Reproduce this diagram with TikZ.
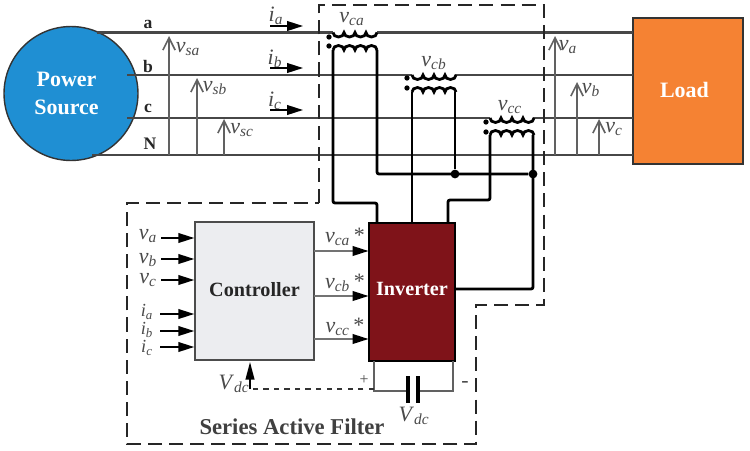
\documentclass[tikz,border=0pt]{standalone}
\usepackage{fontspec}
\setmainfont{Liberation Serif}
\usetikzlibrary{arrows.meta}
\definecolor{srcblue}{HTML}{1F8FD3}
\definecolor{loadorange}{HTML}{F58233}
\definecolor{invred}{HTML}{7F1319}
\definecolor{ctrlgray}{HTML}{ECEDF0}
\definecolor{labelgray}{HTML}{4A4A4A}
\newcommand\coilturns[1]{% end angle of each turn
  \foreach \t in {1,2,3,4}{
    arc[start angle=180,end angle=#1,x radius=5.5,y radius=4.5]
  }
}
\newcommand\sig[2]{\textit{#1}\textsubscript{\textit{#2}}}
\tikzset{
  phase/.style = {draw=black!72, line width=1.5pt},
  wire/.style = {draw=black, line width=1.6pt, rounded corners=.4mm},
  thin wire/.style = {draw=black!62, line width=.9pt},
  sense/.style = {thin wire, -{Straight Barb[length=7pt,width=7pt]}},
  feed/.style = {draw=black, line width=.9pt, -{Triangle[length=9pt,width=5.5pt]}},
  outfeed/.style = {draw=black!55, line width=.9pt, -{Triangle[length=9pt,width=5.5pt,color=black]}},
  frame/.style = {draw=black!85, line width=1.3pt, dash pattern=on 8pt off 4pt},
  lab/.style = {text=labelgray, font=\fontsize{12.5}{12.5}\selectfont, inner sep=0pt},
  small lab/.style = {text=labelgray, font=\fontsize{10.5}{10.5}\selectfont, inner sep=0pt},
  phasename/.style = {font=\fontsize{10}{10}\selectfont\bfseries, text=black!85, inner sep=0pt},
  dotmark/.style = {circle, fill=black, inner sep=0pt, minimum size=3pt},
  junction/.style = {circle, fill=black, inner sep=0pt, minimum size=5pt},
  blockname/.style = {font=\fontsize{11.5}{15.5}\selectfont\bfseries, align=center, inner sep=0pt}
}
\begin{document}
\begin{tikzpicture}[x=.02cm,y=-.02cm]
\useasboundingbox (0,0) rectangle (750,450);
\node[circle, draw=black!80, line width=.8pt, fill=srcblue, text=white, minimum size=2.68cm, blockname, font=\fontsize{12.5}{15.5}\selectfont\bfseries] (source) at (71,93.5) {\hspace*{-5pt}Power\\\hspace*{-5pt}Source};
\node[draw=black!80, line width=.8pt, fill=loadorange, text=white, minimum width=2.2cm, minimum height=2.92cm, blockname, font=\fontsize{12.5}{15.5}\selectfont\bfseries, anchor=center] (load) at (688,91) {\hspace*{-4pt}\raisebox{1.2pt}{Load}};
\node[draw=black!70, line width=.9pt, fill=ctrlgray, text=black!85, minimum width=2.38cm, minimum height=2.76cm, blockname, anchor=center] (controller) at (254.5,291) {\raisebox{1.7pt}{Controller}};
\node[draw=black, line width=.6pt, fill=invred, text=white, minimum width=1.72cm, minimum height=2.76cm, blockname, anchor=center] (inverter) at (412,292) {\raisebox{3.4pt}{Inverter}};
%
%
% phase lines
\coordinate (sa) at (97,32.5);
\coordinate (sb) at (127,75);
\coordinate (sc) at (127,118);
\coordinate (sn) at (92,155);
\coordinate (la) at (633,32.5);
\coordinate (lb) at (633,75);
\coordinate (lc) at (633,118);
\coordinate (ln) at (633,155);
\coordinate (caa) at (333,32.5);
\coordinate (cab) at (377,32.5);
\coordinate (cba) at (412,75);
\coordinate (cbb) at (455,75);
\coordinate (cca) at (490,118);
\coordinate (ccb) at (533,118);
\draw[phase] (sa) -- (caa);
\draw[phase] (cab) -- (la);
\draw[phase] (sb) -- (cba);
\draw[phase] (cbb) -- (lb);
\draw[phase] (sc) -- (cca);
\draw[phase] (ccb) -- (lc);
\draw[phase] (sn) -- (ln);
\draw[wire, sharp corners] (caa) \coilturns{0};
\draw[wire, sharp corners] (cba) \coilturns{0};
\draw[wire, sharp corners] (cca) \coilturns{0};
\node[phasename] (na) at (148,24) {a};
\node[phasename] (nb) at (148,66) {b};
\node[phasename] (nc) at (148,108) {c};
\node[phasename] (nn) at (150,144) {N};
%
%
% transformer secondaries
\coordinate (sab) at (333,50);
\coordinate (sac) at (377,50);
\coordinate (sbb) at (412,92);
\coordinate (sbc) at (455,92);
\coordinate (scb) at (490,135);
\coordinate (scc) at (533,135);
\draw[wire, sharp corners] (sab) \coilturns{360};
\draw[wire, sharp corners] (sbb) \coilturns{360};
\draw[wire, sharp corners] (scb) \coilturns{360};
\node[dotmark] (daa) at (329,37) {};
\node[dotmark] (dab) at (329,46) {};
\node[dotmark] (dba) at (407,78) {};
\node[dotmark] (dbb) at (407,88) {};
\node[dotmark] (dca) at (486,122) {};
\node[dotmark] (dcb) at (486,132) {};
\node[lab] (vca) at (352,19) {\sig{v}{ca}};
\node[lab] (vcb) at (434,63) {\sig{v}{cb}};
\node[lab] (vcc) at (510,107) {\sig{v}{cc}};
\node[junction] (jb) at (455,174) {};
\node[junction] (jc) at (533,174) {};
\coordinate (ina) at (377,223);
\coordinate (inb) at (412,223);
\coordinate (inc) at (448,223);
\coordinate (ela) at (377,203);
\coordinate (elc) at (448,200);
\coordinate (ind) at (455,289);
\draw[wire] (sab) |- (ela) -- (ina);
\draw[wire] (sbb) -- (inb);
\draw[wire] (scb) |- (elc) -- (inc);
\draw[wire] (sac) |- (jc);
\draw[wire] (sbc) -- (jb);
\draw[wire] (scc) |- (ind);
%
%
% measured voltages
\coordinate (a1) at (169,155);
\coordinate (a2) at (169,36);
\coordinate (b1) at (197,155);
\coordinate (b2) at (197,78);
\coordinate (c1) at (224,155);
\coordinate (c2) at (224,119);
\coordinate (d1) at (555,155);
\coordinate (d2) at (555,36);
\coordinate (e1) at (577,155);
\coordinate (e2) at (577,82);
\coordinate (f1) at (599,155);
\coordinate (f2) at (599,119);
\draw[sense] (a1) -- (a2);
\draw[sense] (b1) -- (b2);
\draw[sense] (c1) -- (c2);
\draw[sense] (d1) -- (d2);
\draw[sense] (e1) -- (e2);
\draw[sense] (f1) -- (f2);
\node[lab] (vsa) at (188,49) {\sig{v}{sa}};
\node[lab] (vsb) at (215,88) {\sig{v}{sb}};
\node[lab] (vsc) at (242,130) {\sig{v}{sc}};
\node[lab] (va) at (568,47) {\sig{v}{a}};
\node[lab] (vb) at (591,90) {\sig{v}{b}};
\node[lab] (vc) at (614,129) {\sig{v}{c}};
%
%
% line currents
\coordinate (ia1) at (270,26);
\coordinate (ia2) at (303,26);
\coordinate (ib1) at (270,68);
\coordinate (ib2) at (303,68);
\coordinate (ic1) at (270,110);
\coordinate (ic2) at (303,110);
\draw[feed] (ia1) -- (ia2);
\draw[feed] (ib1) -- (ib2);
\draw[feed] (ic1) -- (ic2);
\node[lab] (lia) at (276,16) {\sig{i}{a}};
\node[lab] (lib) at (275,59) {\sig{i}{b}};
\node[lab] (lic) at (275,101) {\sig{i}{c}};
%
%
% controller inputs
\coordinate (p1) at (161,238);
\coordinate (p2) at (161,259);
\coordinate (p3) at (161,280);
\coordinate (p4) at (160,314);
\coordinate (p5) at (160,331);
\coordinate (p6) at (160,347);
\draw[feed] (p1) -- (p1 -| controller.west);
\draw[feed] (p2) -- (p2 -| controller.west);
\draw[feed] (p3) -- (p3 -| controller.west);
\draw[feed] (p4) -- (p4 -| controller.west);
\draw[feed] (p5) -- (p5 -| controller.west);
\draw[feed] (p6) -- (p6 -| controller.west);
\node[lab] (qa) at (148,236) {\sig{v}{a}};
\node[lab] (qb) at (148,260) {\sig{v}{b}};
\node[lab] (qc) at (148,280) {\sig{v}{c}};
\node[small lab] (qd) at (147,312) {\sig{i}{a}};
\node[small lab] (qe) at (147,330) {\sig{i}{b}};
\node[small lab] (qf) at (147,348) {\sig{i}{c}};
%
%
% controller outputs
\coordinate (o1) at (314,251);
\coordinate (o2) at (314,296);
\coordinate (o3) at (314,339);
\draw[outfeed] (o1) -- (o1 -| inverter.west);
\draw[outfeed] (o2) -- (o2 -| inverter.west);
\draw[outfeed] (o3) -- (o3 -| inverter.west);
\node[lab] (ra) at (345,237) {\sig{v}{ca}\,*};
\node[lab] (rb) at (345,283) {\sig{v}{cb}\,*};
\node[lab] (rc) at (345,327) {\sig{v}{cc}\,*};
%
%
% dc link
\coordinate (dl) at (374,361);
\coordinate (dr) at (453,361);
\coordinate (dm) at (374,391);
\coordinate (pa) at (408,391);
\coordinate (pb) at (418,391);
\coordinate (pc) at (453,391);
\coordinate (pa1) at (408,376);
\coordinate (pa2) at (408,403);
\coordinate (pb1) at (418,376);
\coordinate (pb2) at (418,403);
\coordinate (vd1) at (250,389);
\coordinate (vd2) at (250,362);
\draw[thin wire, line width=1pt] (dl) -- (dm) -- (pa);
\draw[thin wire, line width=1pt] (dr) -- (pc) -- (pb);
\draw[draw=black, line width=2.2pt] (pa1) -- (pa2);
\draw[draw=black, line width=2.2pt] (pb1) -- (pb2);
\draw[draw=black!80, line width=.9pt, dashed] (dm |- vd1) -- (vd1);
\draw[draw=black, line width=.9pt, -{Triangle[length=10pt,width=5pt]}] (vd1) -- (vd2);
\node[lab] (vdca) at (234,384) {\sig{V}{dc}};
\node[lab] (vdcb) at (414,416) {\sig{V}{dc}};
\node[lab, font=\fontsize{9}{9}\selectfont] (plus) at (364,380) {+};
\node[lab] (minus) at (465,384) {-};
%
%
\draw[frame] (319,203) -- (319,5) -- (544,5) -- (544,305) -- (476,305) -- (476,444) -- (127,444) -- (127,203) -- cycle;
\node[font=\fontsize{12.9}{12.9}\selectfont\bfseries, text=black!75, inner sep=0pt] (filter) at (292,427) {Series Active Filter};
\end{tikzpicture}
\end{document}
